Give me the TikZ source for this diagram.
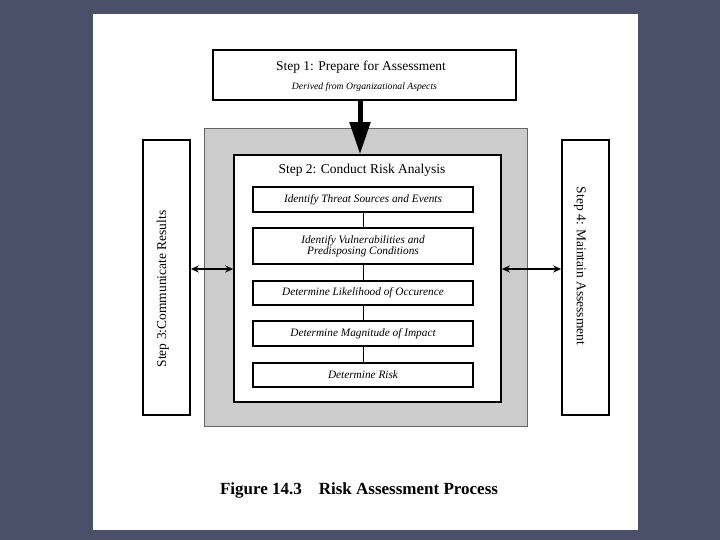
\documentclass[tikz,border=0pt]{standalone}
\usepackage{fontspec}
\setmainfont{Liberation Serif}
\usetikzlibrary{arrows.meta}
\definecolor{slate}{HTML}{4A5068}
\definecolor{greyb}{HTML}{CCCCCC}
\begin{document}
\begin{tikzpicture}[x=1pt,y=-1pt,
  box/.style={draw=black,line width=1.6pt,fill=white,inner sep=0pt},
  sub/.style={draw=black,line width=1.4pt,fill=white,inner sep=0pt,font=\fontsize{11.3}{11.5}\selectfont\itshape,align=center},
  side/.style={draw=black,line width=1.6pt,fill=white,inner sep=0pt},
  dbl/.style={line width=1.2pt,{Stealth[length=8pt,width=7pt]}-{Stealth[length=8pt,width=7pt]}}]
\fill[slate] (0,0) rectangle (720,540);
\useasboundingbox (0,0) rectangle (720,540);
\fill[white] (93,14) rectangle (638,530);
\node[draw=black!60,fill=greyb,minimum width=323pt,minimum height=298pt,inner sep=0pt] (grey) at (365.5,277) {};
\node[box,minimum width=303pt,minimum height=50pt] (s1) at (364.5,75) {};
\node[font=\fontsize{13.5}{15}\selectfont] (s1t) at (361,67) {Step 1: Prepare for Assessment};
\node[font=\fontsize{9.7}{11}\selectfont\itshape] (s1s) at (364.5,87) {Derived from Organizational Aspects};
\node[box,minimum width=267pt,minimum height=247pt] (s2) at (367.5,278.5) {};
\node[font=\fontsize{13.5}{15}\selectfont] (s2t) at (362,170) {Step 2: Conduct Risk Analysis};
\node[sub,minimum width=220pt,minimum height=25pt] (a) at (363,199.5) {Identify Threat Sources and Events};
\node[sub,minimum width=220pt,minimum height=36pt] (b) at (363,246) {Identify Vulnerabilities and\\Predisposing Conditions};
\node[sub,minimum width=220pt,minimum height=24pt] (c) at (363,293) {Determine Likelihood of Occurence};
\node[sub,minimum width=220pt,minimum height=25pt] (d) at (363,333.5) {Determine Magnitude of Impact};
\node[sub,minimum width=220pt,minimum height=24pt] (e) at (363,375) {Determine Risk};
\draw[line width=0.8pt] (a) -- (b); \draw[line width=0.8pt] (b) -- (c);
\draw[line width=0.8pt] (c) -- (d); \draw[line width=0.8pt] (d) -- (e);
\node[side,minimum width=47pt,minimum height=275pt] (l) at (166.5,277.5) {};
\node[rotate=90,font=\fontsize{13.5}{15}\selectfont] (lt) at (163,289) {Step 3:Communicate Results};
\node[side,minimum width=47pt,minimum height=275pt] (r) at (585.5,277.5) {};
\node[rotate=-90,font=\fontsize{13.5}{15}\selectfont] (rt) at (580,266) {Step 4: Maintain Assessment};
\draw[line width=5pt,-{Triangle[length=32pt,width=20pt]}] (s1.south -| 360,0) -- (s2.north -| 360,0);
\draw[dbl] (l.east |- 0,269) -- (s2.west |- 0,269);
\draw[dbl] (s2.east |- 0,269) -- (r.west |- 0,269);
\node[font=\fontsize{17}{19}\selectfont\bfseries] (cap) at (359,490) {Figure 14.3\quad Risk Assessment Process};
\end{tikzpicture}
\end{document}
